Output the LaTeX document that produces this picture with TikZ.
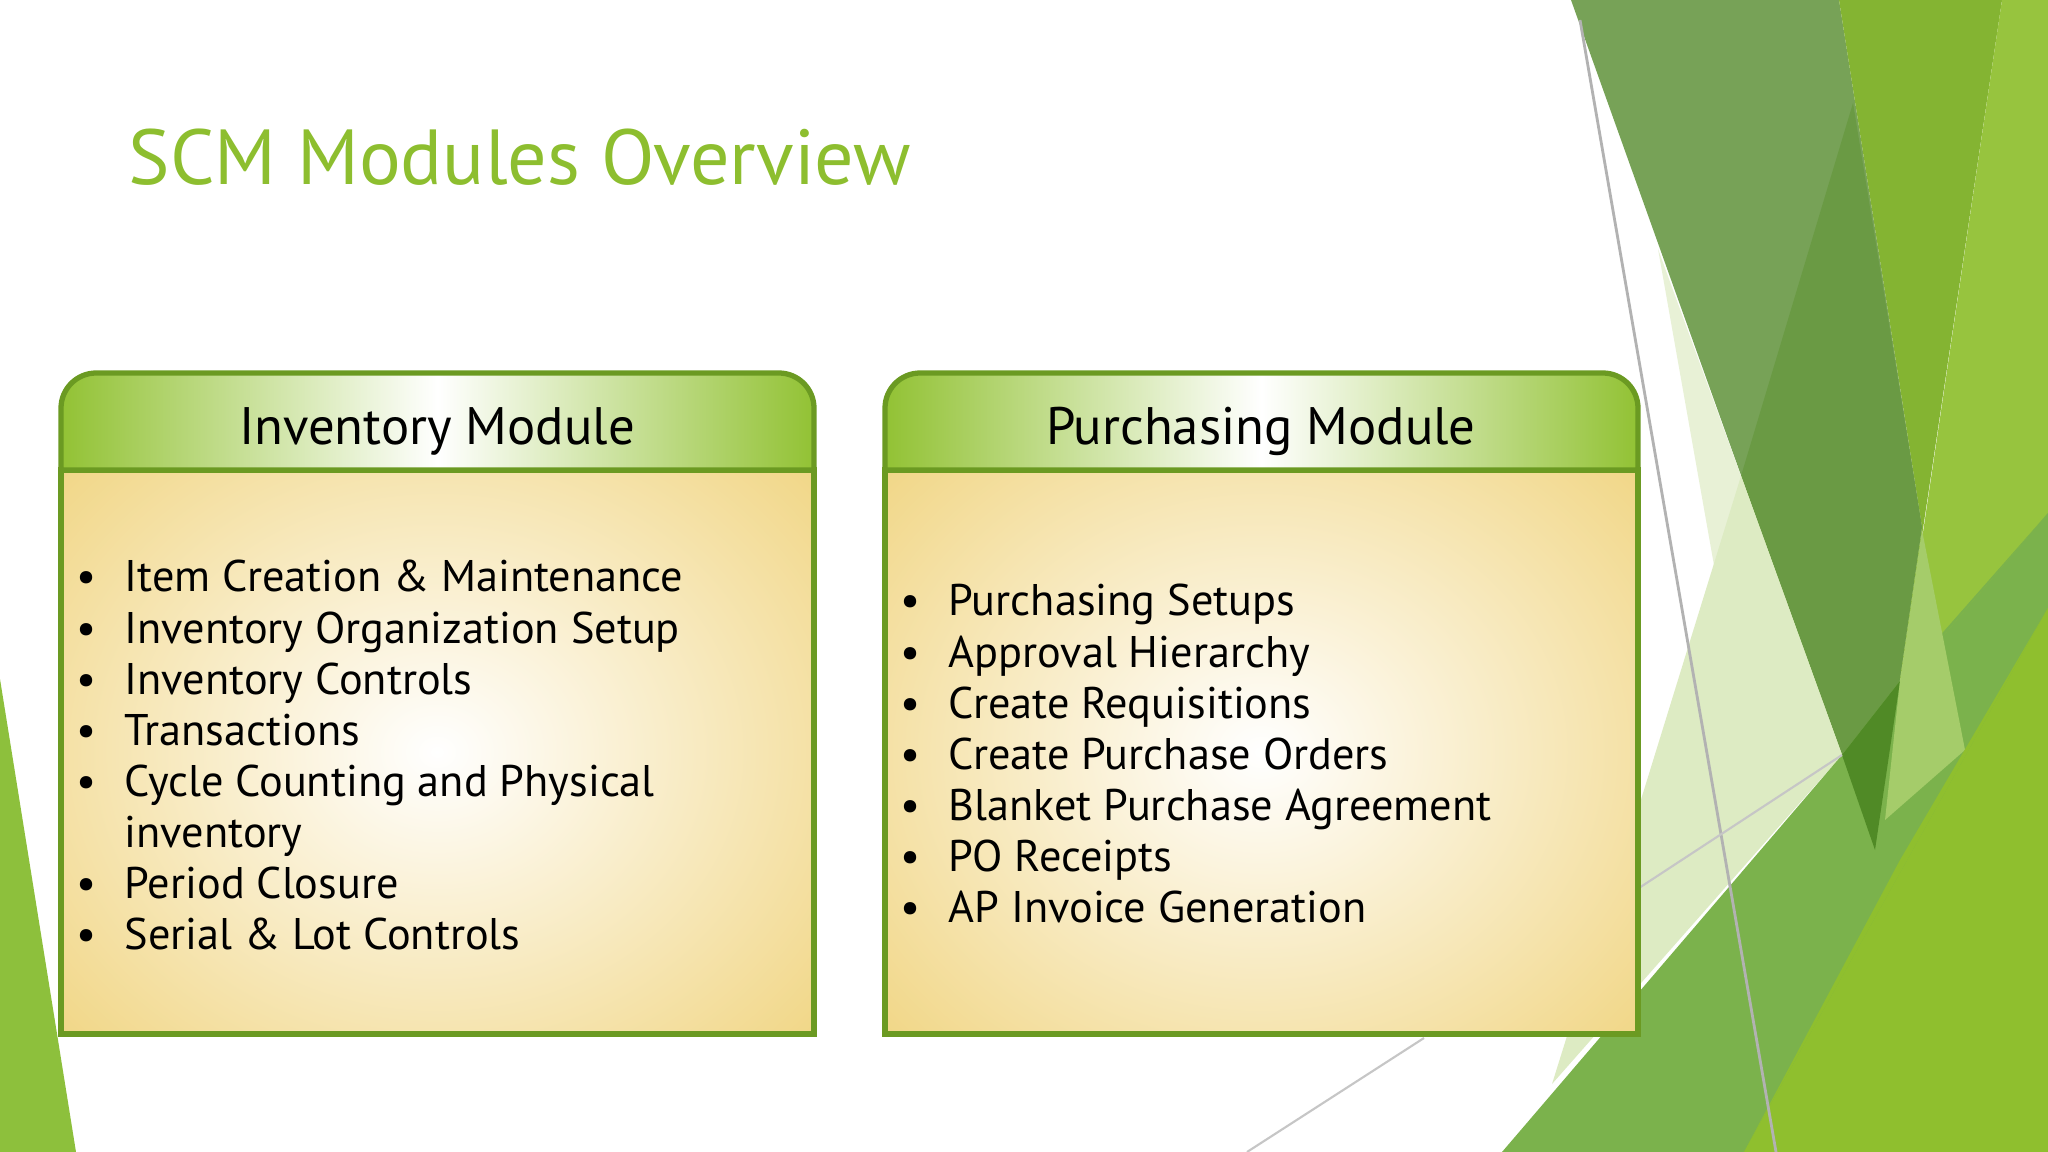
\documentclass[tikz,border=0pt]{standalone}
\usepackage{fontspec}
\setmainfont{PT Sans}
\begin{document}
\begin{tikzpicture}[x=0.01cm,y=-0.01cm,
  bodytxt/.style={anchor=base west,inner sep=0,font=\fontsize{12.6}{15}\selectfont},
  bul/.style={anchor=base west,inner sep=0,font=\fontsize{12.6}{15}\selectfont},
  headtxt/.style={anchor=base,inner sep=0,font=\fontsize{15}{18}\selectfont}]
\definecolor{tgreen}{HTML}{8DBE2F}
\definecolor{hgreen}{HTML}{92C234}
\definecolor{bord}{HTML}{6B9A22}
\definecolor{gold}{HTML}{E6B729}
\useasboundingbox (0,0) rectangle (2048,1152);
\fill[white] (0,0) rectangle (2048,1152);
% background decorations
\fill[color={rgb,255:red,119;green,162;blue,87}] (1571,0)--(1839,0)--(1922,527)--(1875,850)--cycle;
\fill[color={rgb,255:red,132;green,180;blue,50}] (1839,0)--(2002,0)--(1875,850)--(1922,527)--cycle;
\fill[color={rgb,255:red,151;green,196;blue,62}] (2002,0)--(2048,0)--(2048,1152)--(1831,1152)--(1864,930)--cycle;
\fill[color={rgb,255:red,106;green,154;blue,68}] (1853,103)--(1922,527)--(1875,850)--(1741,476)--cycle;
\fill[color={rgb,255:red,232;green,241;blue,214}] (1658,249)--(1741,476)--(1842,755)--(1763,842)--cycle;
\fill[color={rgb,255:red,205;green,227;blue,165}] (1741,476)--(1842,755)--(1763,842)--cycle;
\fill[color={rgb,255:red,221;green,235;blue,195}] (1741,476)--(1842,755)--(1552,1084)--(1639,806)--cycle;
\fill[color={rgb,255:red,123;green,178;blue,76}] (2048,513)--(1842,755)--(1502,1152)--(2048,1152)--cycle;
\fill[color={rgb,255:red,123;green,178;blue,76}] (2048,513)--(1842,755)--(1900,681)--cycle;
\fill[color={rgb,255:red,80;green,138;blue,38}] (1842,755)--(1900,681)--(1875,850)--cycle;
\fill[color={rgb,255:red,165;green,204;blue,106}] (1900,681)--(1922,530)--(1965,750)--(1885,820)--cycle;
\fill[color={rgb,255:red,143;green,191;blue,46}] (2048,608)--(1744,1152)--(2048,1152)--cycle;
\fill[color={rgb,255:red,143;green,191;blue,46}] (2048,608)--(1744,1152)--(1900,860)--cycle;
\draw[gray!60,line width=0.8pt] (1580,20)--(1776,1152);
\draw[gray!45,line width=0.6pt] (1639,888)--(1842,755);
\draw[gray!45,line width=0.6pt] (1247,1152)--(1424,1038);
\fill[color={rgb,255:red,141;green,192;blue,60}] (0,679)--(76,1152)--(0,1152)--cycle;
% title
\node[anchor=base west,inner sep=0,text=tgreen,font=\fontsize{22.2}{26}\selectfont] (title) at (128,185) {SCM Modules Overview};
% boxes
\foreach \bx in {61,885}{
  \begin{scope}
    \clip (\bx,470) rectangle ({\bx+753},1034);
    \shade[inner color=white,outer color=gold] ({\bx+376-900},{752-760}) rectangle ({\bx+376+900},{752+760});
  \end{scope}
  \draw[bord,line width=1.5pt] (\bx,470) rectangle ({\bx+753},1034);
  \shade[left color=hgreen,right color=hgreen,middle color=white,draw=bord,line width=1.5pt]
    (\bx,470) [rounded corners=10] -- (\bx,373) -- ({\bx+753},373) [sharp corners] -- ({\bx+753},470) -- cycle;
}
\node[headtxt] (hL) at (437,445) {Inventory Module};
\node[headtxt] (hR) at (1261,445) {Purchasing Module};
% left list
\foreach \i/\t in {0/Item Creation \& Maintenance,1/Inventory Organization Setup,2/Inventory Controls,3/Transactions,4/Cycle Counting and Physical,6/Period Closure,7/Serial \& Lot Controls}{
  \node[bul] (lb\i) at (76,{592+51*\i}) {•};
  \node[bodytxt] (lt\i) at (124,{592+51*\i}) {\t};
}
\node[bodytxt] (lt5) at (124,847) {inventory};
% right list
\foreach \i/\t in {0/Purchasing Setups,1/Approval Hierarchy,2/Create Requisitions,3/Create Purchase Orders,4/Blanket Purchase Agreement,5/PO Receipts,6/AP Invoice Generation}{
  \node[bul] (rb\i) at (900,{616+51*\i}) {•};
  \node[bodytxt] (rt\i) at (948,{616+51*\i}) {\t};
}
\end{tikzpicture}
\end{document}
